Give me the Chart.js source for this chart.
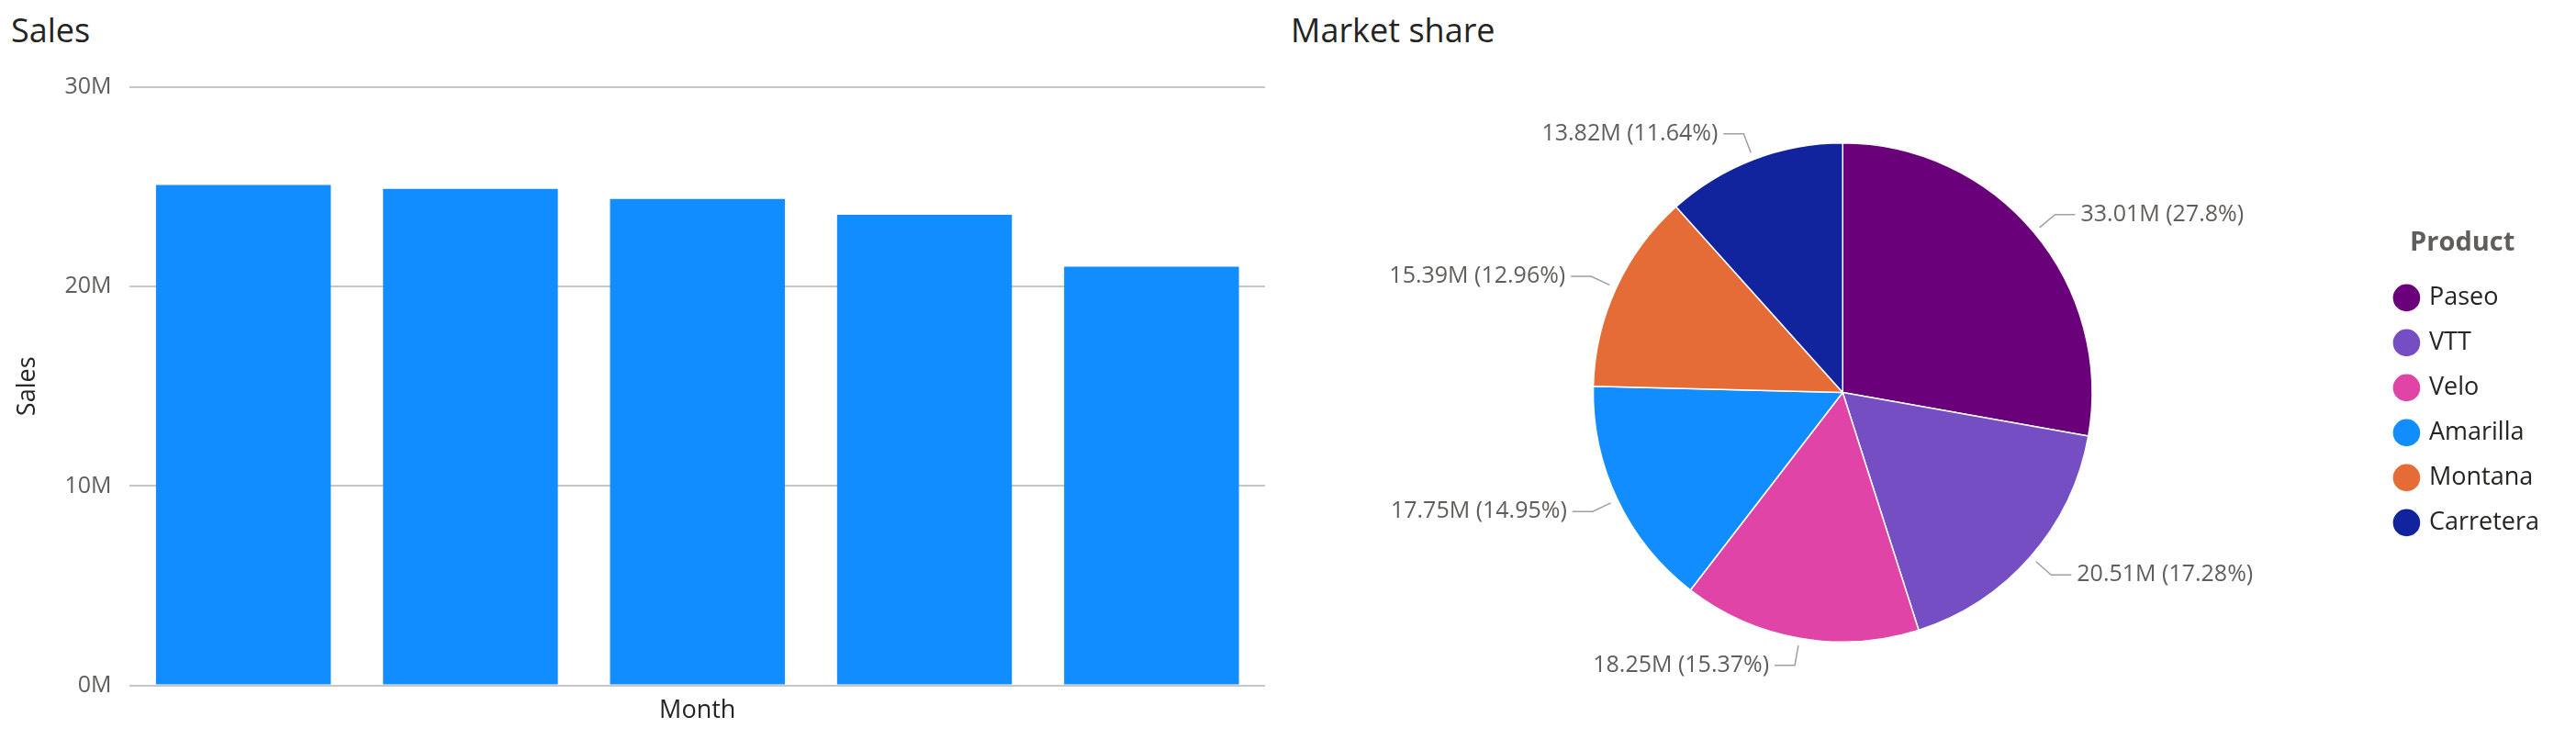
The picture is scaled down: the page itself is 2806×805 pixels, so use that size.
<!DOCTYPE html>
<html lang="en">
<head>
    <meta charset="UTF-8">
    <script src="https://cdn.jsdelivr.net/npm/chart.js"></script>
    <title>Sales and Market share</title>
    <style>
        body { margin: 0; background: #fff; width: 2806px; height: 805px; overflow: hidden; font-family: "Open Sans", "DejaVu Sans", sans-serif; }
        .title { position: absolute; top: 8px; font-size: 36px; color: #252423; }
        .box { position: absolute; top: 60px; height: 745px; }
    </style>
</head>
<body>
    <div class="title" style="left: 12px;">Sales</div>
    <div class="title" style="left: 1406px;">Market share</div>
    <div class="box" style="left: 0; width: 1396px;"><canvas id="salesChart"></canvas></div>
    <div class="box" style="left: 1396px; width: 1410px;"><canvas id="shareChart"></canvas></div>

    <script>
        // bar chart data
        const months = ['Jan', 'Feb', 'Mar', 'Apr', 'May'];
        const salesValues = [25.1, 24.9, 24.4, 23.6, 21.0];
        const salesTicks = ['0M', '10M', '20M', '30M'];

        // pie data
        const products = ['Paseo', 'VTT', 'Velo', 'Amarilla', 'Montana', 'Carretera'];
        const shareValues = [33.01, 20.51, 18.25, 17.75, 15.39, 13.82];
        const sharePct = ['27.8%', '17.28%', '15.37%', '14.95%', '12.96%', '11.64%'];
        const productColors = ['#6B007B', '#744EC2', '#E044A7', '#118DFF', '#E66C37', '#12239E'];

        const textGray = '#605E5C';
        const fontFam = '"Open Sans", "DejaVu Sans", sans-serif';

        new Chart(document.getElementById('salesChart'), {
            type: 'bar',
            data: {
                labels: months,
                datasets: [{ data: salesValues, backgroundColor: '#118DFF', categoryPercentage: 1, barPercentage: 0.77 }]
            },
            options: {
                responsive: true, maintainAspectRatio: false, animation: false,
                layout: { padding: { left: 10, right: 18, top: 20, bottom: 10 } },
                plugins: { legend: { display: false }, tooltip: { enabled: false } },
                scales: {
                    x: {
                        grid: { display: false }, border: { display: false },
                        ticks: { display: false },
                        title: { display: true, text: 'Month', color: '#252423', font: { size: 27, family: fontFam } }
                    },
                    y: {
                        min: 0, max: 30,
                        border: { display: false },
                        grid: { color: '#C8C6C4', lineWidth: 2, borderDash: [2, 7], drawTicks: false },
                        ticks: { stepSize: 10, padding: 20, color: textGray, font: { size: 25, family: fontFam },
                            callback: (v, i) => salesTicks[i] },
                        title: { display: true, text: 'Sales', color: '#252423', font: { size: 27, family: fontFam } }
                    }
                }
            }
        });

        // leader lines and data labels outside the slices
        const outsideLabels = {
            id: 'outsideLabels',
            afterDatasetsDraw(chart) {
                const ctx = chart.ctx;
                const arcs = chart.getDatasetMeta(0).data;
                ctx.save();
                ctx.font = '25px ' + fontFam;
                ctx.fillStyle = textGray;
                ctx.strokeStyle = '#A19F9D';
                ctx.lineWidth = 1.5;
                arcs.forEach((arc, i) => {
                    const p = arc.getProps(['x', 'y', 'startAngle', 'endAngle', 'outerRadius']);
                    const a = (p.startAngle + p.endAngle) / 2;
                    const r = p.outerRadius;
                    const x1 = p.x + Math.cos(a) * (r + 8), y1 = p.y + Math.sin(a) * (r + 8);
                    const x2 = p.x + Math.cos(a) * (r + 30), y2 = p.y + Math.sin(a) * (r + 30);
                    const right = Math.cos(a) >= 0;
                    const x3 = x2 + (right ? 22 : -22);
                    ctx.beginPath();
                    ctx.moveTo(x1, y1); ctx.lineTo(x2, y2); ctx.lineTo(x3, y2);
                    ctx.stroke();
                    ctx.textAlign = right ? 'left' : 'right';
                    ctx.textBaseline = 'middle';
                    ctx.fillText(shareValues[i].toFixed(2) + 'M (' + sharePct[i] + ')', x3 + (right ? 6 : -6), y2);
                });
                ctx.restore();
            }
        };

        new Chart(document.getElementById('shareChart'), {
            type: 'pie',
            data: {
                labels: products,
                datasets: [{ data: shareValues, backgroundColor: productColors, borderColor: '#fff', borderWidth: 1.5 }]
            },
            options: {
                responsive: true, maintainAspectRatio: false, animation: false,
                layout: { padding: { left: 30, right: 30, top: 95, bottom: 105 } },
                plugins: {
                    tooltip: { enabled: false },
                    legend: {
                        position: 'right',
                        title: { display: true, text: 'Product', color: '#605E5C', font: { size: 29, weight: 'bold', family: fontFam }, padding: { bottom: 4 } },
                        labels: { usePointStyle: true, pointStyle: 'circle', boxWidth: 22, boxHeight: 22, padding: 22, color: '#252423', font: { size: 27, family: fontFam } }
                    }
                }
            },
            plugins: [outsideLabels]
        });
    </script>
</body>
</html>
